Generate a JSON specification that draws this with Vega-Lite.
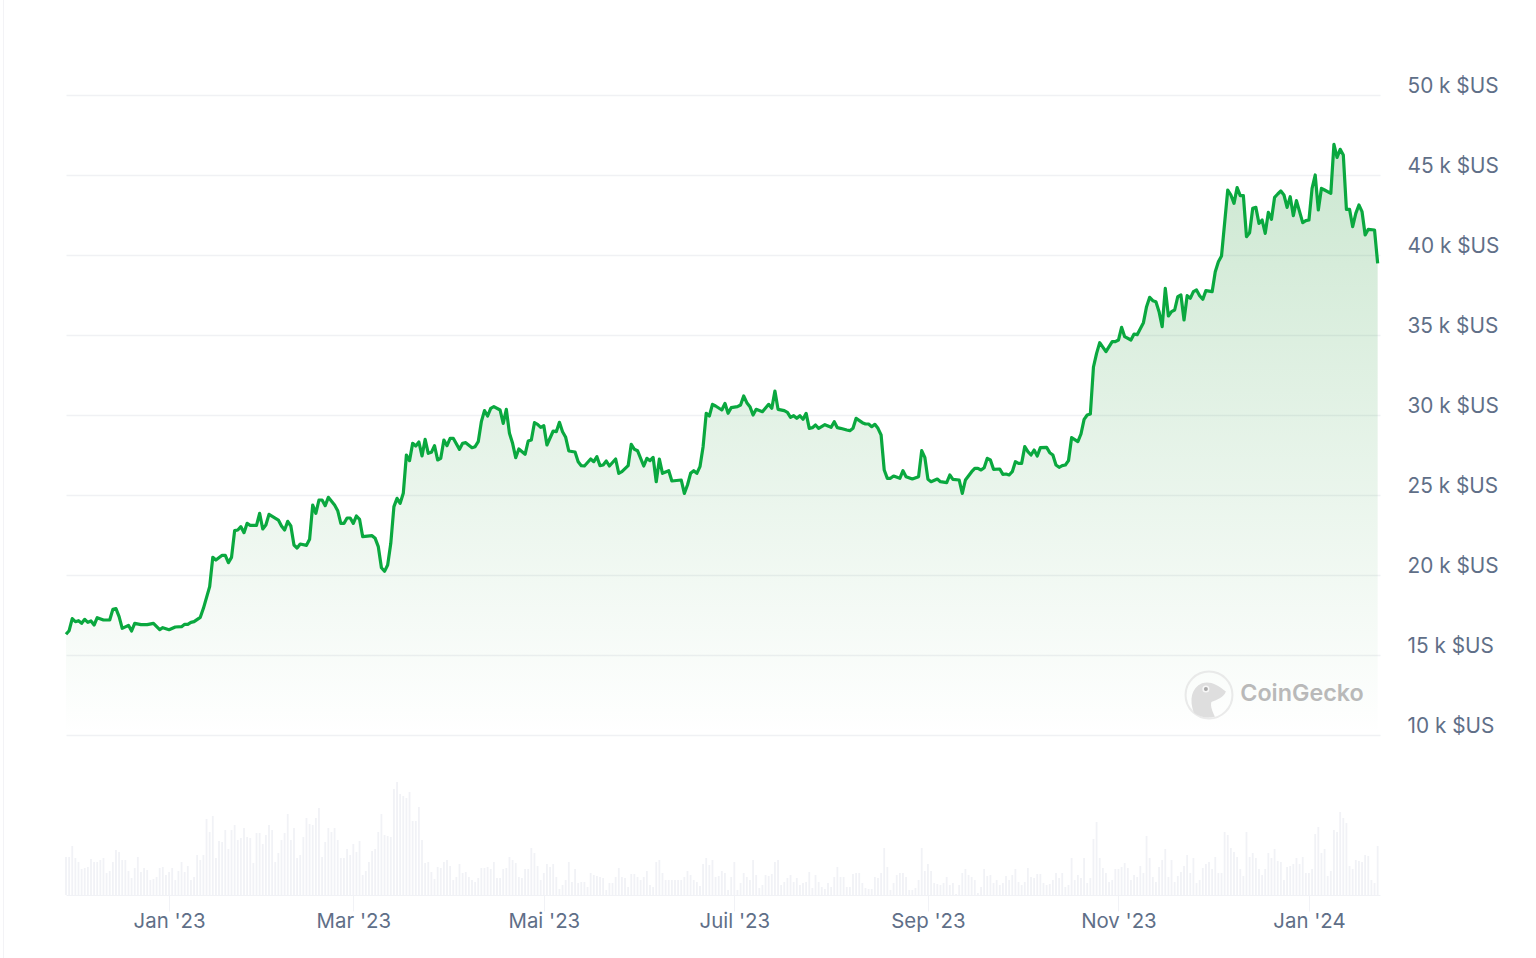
{"$schema":"https://vega.github.io/schema/vega-lite/v6.json","width":1314,"height":800,"autosize":"none","padding":{"left":66,"top":95,"right":156,"bottom":63},"background":"#ffffff","config":{"view":{"stroke":null},"font":"Inter"},
"datasets":{"daily":[
{"date":"2022-11-29","volume":38,"price":16292},{"date":"2022-11-30","volume":38,"price":16521},{"date":"2022-12-01","volume":49,"price":17271},{"date":"2022-12-02","volume":37,"price":17084},{"date":"2022-12-03","volume":33,"price":17146},{"date":"2022-12-04","volume":26,"price":16979},{"date":"2022-12-05","volume":27,"price":17229},{"date":"2022-12-06","volume":28,"price":17042},{"date":"2022-12-07","volume":36,"price":17125},{"date":"2022-12-08","volume":33,"price":16875},{"date":"2022-12-09","volume":33,"price":17334},{"date":"2022-12-10","volume":35},{"date":"2022-12-11","volume":37,"price":17188},{"date":"2022-12-12","volume":22},{"date":"2022-12-13","volume":24,"price":17188},{"date":"2022-12-14","volume":33,"price":17854},{"date":"2022-12-15","volume":45,"price":17896},{"date":"2022-12-16","volume":43,"price":17396},{"date":"2022-12-17","volume":35,"price":16667},{"date":"2022-12-18","volume":35},{"date":"2022-12-19","volume":24,"price":16854},{"date":"2022-12-20","volume":17,"price":16500},{"date":"2022-12-21","volume":27,"price":16979},{"date":"2022-12-22","volume":38},{"date":"2022-12-23","volume":23,"price":16896},{"date":"2022-12-24","volume":27},{"date":"2022-12-25","volume":25,"price":16896},{"date":"2022-12-26","volume":15},{"date":"2022-12-27","volume":16,"price":16979},{"date":"2022-12-28","volume":18},{"date":"2022-12-29","volume":27,"price":16583},{"date":"2022-12-30","volume":28,"price":16708},{"date":"2022-12-31","volume":20},
{"date":"2023-01-01","volume":23,"price":16583},{"date":"2023-01-02","volume":27},{"date":"2023-01-03","volume":15,"price":16750},{"date":"2023-01-04","volume":24},{"date":"2023-01-05","volume":33,"price":16771},{"date":"2023-01-06","volume":23,"price":16917},{"date":"2023-01-07","volume":29,"price":16917},{"date":"2023-01-08","volume":15,"price":17042},{"date":"2023-01-09","volume":18,"price":17083},{"date":"2023-01-10","volume":40},{"date":"2023-01-11","volume":35,"price":17354},{"date":"2023-01-12","volume":40,"price":17917},{"date":"2023-01-13","volume":76},{"date":"2023-01-14","volume":63,"price":19271},{"date":"2023-01-15","volume":79,"price":21104},{"date":"2023-01-16","volume":37,"price":20937},{"date":"2023-01-17","volume":54},{"date":"2023-01-18","volume":53,"price":21229},{"date":"2023-01-19","volume":65,"price":21229},{"date":"2023-01-20","volume":46,"price":20771},{"date":"2023-01-21","volume":65,"price":21104},{"date":"2023-01-22","volume":70,"price":22771},{"date":"2023-01-23","volume":55,"price":22812},{"date":"2023-01-24","volume":57,"price":23021},{"date":"2023-01-25","volume":67,"price":22646},{"date":"2023-01-26","volume":58,"price":23229},{"date":"2023-01-27","volume":57,"price":23104},{"date":"2023-01-28","volume":32},{"date":"2023-01-29","volume":62,"price":23104},{"date":"2023-01-30","volume":62,"price":23854},{"date":"2023-01-31","volume":51,"price":22875},
{"date":"2023-02-01","volume":60,"price":23125},{"date":"2023-02-02","volume":70,"price":23792},{"date":"2023-02-03","volume":65},{"date":"2023-02-04","volume":33},{"date":"2023-02-05","volume":42,"price":23437},{"date":"2023-02-06","volume":55,"price":23063},{"date":"2023-02-07","volume":62,"price":22812},{"date":"2023-02-08","volume":81,"price":23354},{"date":"2023-02-09","volume":55,"price":23063},{"date":"2023-02-10","volume":67,"price":21875},{"date":"2023-02-11","volume":37,"price":21687},{"date":"2023-02-12","volume":40,"price":21937},{"date":"2023-02-13","volume":58},{"date":"2023-02-14","volume":77,"price":21854},{"date":"2023-02-15","volume":71,"price":22229},{"date":"2023-02-16","volume":70,"price":24375},{"date":"2023-02-17","volume":77,"price":23854},{"date":"2023-02-18","volume":87,"price":24687},{"date":"2023-02-19","volume":38,"price":24687},{"date":"2023-02-20","volume":53,"price":24333},{"date":"2023-02-21","volume":67,"price":24854},{"date":"2023-02-22","volume":63},{"date":"2023-02-23","volume":67,"price":24375},{"date":"2023-02-24","volume":55,"price":24021},{"date":"2023-02-25","volume":37,"price":23229},{"date":"2023-02-26","volume":37,"price":23229},{"date":"2023-02-27","volume":46,"price":23562},{"date":"2023-02-28","volume":40,"price":23562},
{"date":"2023-03-01","volume":51,"price":23229},{"date":"2023-03-02","volume":43,"price":23688},{"date":"2023-03-03","volume":54,"price":23479},{"date":"2023-03-04","volume":20,"price":22396},{"date":"2023-03-05","volume":24},{"date":"2023-03-06","volume":33},{"date":"2023-03-07","volume":44,"price":22458},{"date":"2023-03-08","volume":46,"price":22292},{"date":"2023-03-09","volume":63,"price":21771},{"date":"2023-03-10","volume":81,"price":20458},{"date":"2023-03-11","volume":60,"price":20229},{"date":"2023-03-12","volume":59,"price":20625},{"date":"2023-03-13","volume":58,"price":21979},{"date":"2023-03-14","volume":106,"price":24271},{"date":"2023-03-15","volume":113,"price":24792},{"date":"2023-03-16","volume":101,"price":24480},{"date":"2023-03-17","volume":99,"price":25105},{"date":"2023-03-18","volume":97,"price":27500},{"date":"2023-03-19","volume":103,"price":27146},{"date":"2023-03-20","volume":74,"price":28229},{"date":"2023-03-21","volume":74,"price":28062},{"date":"2023-03-22","volume":88,"price":28312},{"date":"2023-03-23","volume":55,"price":27438},{"date":"2023-03-24","volume":32,"price":28479},{"date":"2023-03-25","volume":33,"price":27604},{"date":"2023-03-26","volume":23,"price":27667},{"date":"2023-03-27","volume":16,"price":28083},{"date":"2023-03-28","volume":28,"price":27188},{"date":"2023-03-29","volume":27,"price":27292},{"date":"2023-03-30","volume":33,"price":28438},{"date":"2023-03-31","volume":35,"price":28083},
{"date":"2023-04-01","volume":29,"price":28542},{"date":"2023-04-02","volume":15,"price":28542},{"date":"2023-04-03","volume":18},{"date":"2023-04-04","volume":31,"price":27854},{"date":"2023-04-05","volume":22,"price":28229},{"date":"2023-04-06","volume":23,"price":28271},{"date":"2023-04-07","volume":18},{"date":"2023-04-08","volume":15,"price":27958},{"date":"2023-04-09","volume":13,"price":28021},{"date":"2023-04-10","volume":17,"price":28333},{"date":"2023-04-11","volume":27,"price":29583},{"date":"2023-04-12","volume":27,"price":30271},{"date":"2023-04-13","volume":28,"price":29937},{"date":"2023-04-14","volume":26,"price":30417},{"date":"2023-04-15","volume":33,"price":30521},{"date":"2023-04-16","volume":17},{"date":"2023-04-17","volume":17,"price":30312},{"date":"2023-04-18","volume":26,"price":29479},{"date":"2023-04-19","volume":27,"price":30354},{"date":"2023-04-20","volume":38,"price":28854},{"date":"2023-04-21","volume":35,"price":28229},{"date":"2023-04-22","volume":32,"price":27333},{"date":"2023-04-23","volume":18,"price":27875},{"date":"2023-04-24","volume":17},{"date":"2023-04-25","volume":26,"price":27542},{"date":"2023-04-26","volume":26,"price":28375},{"date":"2023-04-27","volume":47,"price":28437},{"date":"2023-04-28","volume":42,"price":29521},{"date":"2023-04-29","volume":29,"price":29417},{"date":"2023-04-30","volume":15,"price":29229},
{"date":"2023-05-01","volume":22,"price":29333},{"date":"2023-05-02","volume":31,"price":28125},{"date":"2023-05-03","volume":28},{"date":"2023-05-04","volume":31,"price":29000},{"date":"2023-05-05","volume":18,"price":28958},{"date":"2023-05-06","volume":6,"price":29542},{"date":"2023-05-07","volume":10,"price":28958},{"date":"2023-05-08","volume":15,"price":28604},{"date":"2023-05-09","volume":33,"price":27750},{"date":"2023-05-10","volume":13},{"date":"2023-05-11","volume":26,"price":27687},{"date":"2023-05-12","volume":12,"price":27083},{"date":"2023-05-13","volume":13,"price":26833},{"date":"2023-05-14","volume":13,"price":26812},{"date":"2023-05-15","volume":8},{"date":"2023-05-16","volume":22,"price":27250},{"date":"2023-05-17","volume":20,"price":27083},{"date":"2023-05-18","volume":19,"price":27396},{"date":"2023-05-19","volume":18,"price":26833},{"date":"2023-05-20","volume":17,"price":26875},{"date":"2023-05-21","volume":5,"price":27125},{"date":"2023-05-22","volume":12,"price":26812},{"date":"2023-05-23","volume":12},{"date":"2023-05-24","volume":18,"price":27250},{"date":"2023-05-25","volume":27,"price":26354},{"date":"2023-05-26","volume":18,"price":26458},{"date":"2023-05-27","volume":17},{"date":"2023-05-28","volume":8,"price":26833},{"date":"2023-05-29","volume":21,"price":28167},{"date":"2023-05-30","volume":21,"price":27854},{"date":"2023-05-31","volume":18,"price":27771},
{"date":"2023-06-01","volume":15},{"date":"2023-06-02","volume":18,"price":26812},{"date":"2023-06-03","volume":24,"price":27292},{"date":"2023-06-04","volume":10,"price":27146},{"date":"2023-06-05","volume":8,"price":27354},{"date":"2023-06-06","volume":33,"price":25833},{"date":"2023-06-07","volume":35,"price":27250},{"date":"2023-06-08","volume":22,"price":26354},{"date":"2023-06-09","volume":15},{"date":"2023-06-10","volume":15,"price":26521},{"date":"2023-06-11","volume":15,"price":25875},{"date":"2023-06-12","volume":15},{"date":"2023-06-13","volume":15},{"date":"2023-06-14","volume":15,"price":25937},{"date":"2023-06-15","volume":18,"price":25104},{"date":"2023-06-16","volume":24,"price":25625},{"date":"2023-06-17","volume":20,"price":26354},{"date":"2023-06-18","volume":15,"price":26521},{"date":"2023-06-19","volume":13,"price":26354},{"date":"2023-06-20","volume":9,"price":26771},{"date":"2023-06-21","volume":31,"price":28021},{"date":"2023-06-22","volume":37,"price":30104},{"date":"2023-06-23","volume":30,"price":29938},{"date":"2023-06-24","volume":35,"price":30667},{"date":"2023-06-25","volume":18,"price":30563},{"date":"2023-06-26","volume":19},{"date":"2023-06-27","volume":24,"price":30313},{"date":"2023-06-28","volume":22,"price":30729},{"date":"2023-06-29","volume":5,"price":30104},{"date":"2023-06-30","volume":18,"price":30458},
{"date":"2023-07-01","volume":33},{"date":"2023-07-02","volume":5,"price":30521},{"date":"2023-07-03","volume":12,"price":30625},{"date":"2023-07-04","volume":22,"price":31188},{"date":"2023-07-05","volume":18,"price":30771},{"date":"2023-07-06","volume":15,"price":30521},{"date":"2023-07-07","volume":35,"price":30000},{"date":"2023-07-08","volume":20,"price":30354},{"date":"2023-07-09","volume":7},{"date":"2023-07-10","volume":10,"price":30208},{"date":"2023-07-11","volume":20},{"date":"2023-07-12","volume":19,"price":30667},{"date":"2023-07-13","volume":21,"price":30417},{"date":"2023-07-14","volume":33,"price":31500},{"date":"2023-07-15","volume":35,"price":30354},{"date":"2023-07-16","volume":10},{"date":"2023-07-17","volume":13,"price":30271},{"date":"2023-07-18","volume":17,"price":30167},{"date":"2023-07-19","volume":20,"price":29854},{"date":"2023-07-20","volume":13,"price":29958},{"date":"2023-07-21","volume":17,"price":29792},{"date":"2023-07-22","volume":10,"price":29958},{"date":"2023-07-23","volume":12,"price":29729},{"date":"2023-07-24","volume":13,"price":30104},{"date":"2023-07-25","volume":23,"price":29167},{"date":"2023-07-26","volume":7,"price":29208},{"date":"2023-07-27","volume":20,"price":29375},{"date":"2023-07-28","volume":13,"price":29167},{"date":"2023-07-29","volume":8},{"date":"2023-07-30","volume":6,"price":29396},{"date":"2023-07-31","volume":12},
{"date":"2023-08-01","volume":8,"price":29229},{"date":"2023-08-02","volume":18,"price":29583},{"date":"2023-08-03","volume":28,"price":29208},{"date":"2023-08-04","volume":18,"price":29167},{"date":"2023-08-05","volume":18},{"date":"2023-08-06","volume":8,"price":29063},{"date":"2023-08-07","volume":8,"price":29021},{"date":"2023-08-08","volume":21,"price":29167},{"date":"2023-08-09","volume":22,"price":29792},{"date":"2023-08-10","volume":22},{"date":"2023-08-11","volume":12,"price":29521},{"date":"2023-08-12","volume":7,"price":29438},{"date":"2023-08-13","volume":6,"price":29438},{"date":"2023-08-14","volume":6,"price":29271},{"date":"2023-08-15","volume":18,"price":29417},{"date":"2023-08-16","volume":17,"price":29167},{"date":"2023-08-17","volume":22,"price":28750},{"date":"2023-08-18","volume":47,"price":26563},{"date":"2023-08-19","volume":28,"price":26042},{"date":"2023-08-20","volume":5,"price":26042},{"date":"2023-08-21","volume":12,"price":26187},{"date":"2023-08-22","volume":20},{"date":"2023-08-23","volume":22,"price":26042},{"date":"2023-08-24","volume":22,"price":26521},{"date":"2023-08-25","volume":18,"price":26146},{"date":"2023-08-26","volume":5},{"date":"2023-08-27","volume":5,"price":26000},{"date":"2023-08-28","volume":7},{"date":"2023-08-29","volume":15,"price":26146},{"date":"2023-08-30","volume":47,"price":27771},{"date":"2023-08-31","volume":24,"price":27354},
{"date":"2023-09-01","volume":31,"price":25979},{"date":"2023-09-02","volume":24,"price":25833},{"date":"2023-09-03","volume":12},{"date":"2023-09-04","volume":11,"price":26000},{"date":"2023-09-05","volume":10,"price":25833},{"date":"2023-09-06","volume":12},{"date":"2023-09-07","volume":18,"price":25771},{"date":"2023-09-08","volume":10,"price":26250},{"date":"2023-09-09","volume":12,"price":25979},{"date":"2023-09-10","volume":1},{"date":"2023-09-11","volume":10,"price":25937},{"date":"2023-09-12","volume":22,"price":25104},{"date":"2023-09-13","volume":26,"price":25937},{"date":"2023-09-14","volume":20},{"date":"2023-09-15","volume":18,"price":26458},{"date":"2023-09-16","volume":15,"price":26667},{"date":"2023-09-17","volume":2,"price":26667},{"date":"2023-09-18","volume":8,"price":26563},{"date":"2023-09-19","volume":26,"price":26708},{"date":"2023-09-20","volume":19,"price":27292},{"date":"2023-09-21","volume":20,"price":27188},{"date":"2023-09-22","volume":12,"price":26604},{"date":"2023-09-23","volume":15},{"date":"2023-09-24","volume":10,"price":26625},{"date":"2023-09-25","volume":12,"price":26292},{"date":"2023-09-26","volume":19,"price":26312},{"date":"2023-09-27","volume":15,"price":26250},{"date":"2023-09-28","volume":20,"price":26458},{"date":"2023-09-29","volume":26,"price":27083},{"date":"2023-09-30","volume":13,"price":26979},
{"date":"2023-10-01","volume":10,"price":26979},{"date":"2023-10-02","volume":13,"price":28021},{"date":"2023-10-03","volume":27,"price":27708},{"date":"2023-10-04","volume":18,"price":27500},{"date":"2023-10-05","volume":17,"price":27813},{"date":"2023-10-06","volume":21,"price":27438},{"date":"2023-10-07","volume":21,"price":27958},{"date":"2023-10-08","volume":12},{"date":"2023-10-09","volume":10,"price":27979},{"date":"2023-10-10","volume":11,"price":27646},{"date":"2023-10-11","volume":15,"price":27500},{"date":"2023-10-12","volume":22,"price":26875},{"date":"2023-10-13","volume":17,"price":26729},{"date":"2023-10-14","volume":22,"price":26833},{"date":"2023-10-15","volume":8,"price":26875},{"date":"2023-10-16","volume":10,"price":27146},{"date":"2023-10-17","volume":37,"price":28583},{"date":"2023-10-18","volume":15},{"date":"2023-10-19","volume":20,"price":28333},{"date":"2023-10-20","volume":17,"price":28812},{"date":"2023-10-21","volume":37,"price":29729},{"date":"2023-10-22","volume":12,"price":30000},{"date":"2023-10-23","volume":17,"price":30062},{"date":"2023-10-24","volume":56,"price":33000},{"date":"2023-10-25","volume":73,"price":33854},{"date":"2023-10-26","volume":37,"price":34521},{"date":"2023-10-27","volume":27},{"date":"2023-10-28","volume":22,"price":33958},{"date":"2023-10-29","volume":13},{"date":"2023-10-30","volume":15,"price":34583},{"date":"2023-10-31","volume":26,"price":34583},
{"date":"2023-11-01","volume":26,"price":34687},{"date":"2023-11-02","volume":28,"price":35479},{"date":"2023-11-03","volume":32,"price":34896},{"date":"2023-11-04","volume":27},{"date":"2023-11-05","volume":15,"price":34687},{"date":"2023-11-06","volume":20,"price":35062},{"date":"2023-11-07","volume":18,"price":35021},{"date":"2023-11-08","volume":29},{"date":"2023-11-09","volume":22,"price":35771},{"date":"2023-11-10","volume":59,"price":36771},{"date":"2023-11-11","volume":37,"price":37354},{"date":"2023-11-12","volume":18,"price":37146},{"date":"2023-11-13","volume":13,"price":37083},{"date":"2023-11-14","volume":28,"price":36458},{"date":"2023-11-15","volume":35,"price":35521},{"date":"2023-11-16","volume":46,"price":37917},{"date":"2023-11-17","volume":18,"price":36187},{"date":"2023-11-18","volume":35,"price":36458},{"date":"2023-11-19","volume":13,"price":36562},{"date":"2023-11-20","volume":19,"price":37396},{"date":"2023-11-21","volume":23,"price":37500},{"date":"2023-11-22","volume":29,"price":35937},{"date":"2023-11-23","volume":40,"price":37458},{"date":"2023-11-24","volume":22,"price":37292},{"date":"2023-11-25","volume":37,"price":37708},{"date":"2023-11-26","volume":12,"price":37812},{"date":"2023-11-27","volume":15,"price":37458},{"date":"2023-11-28","volume":27,"price":37229},{"date":"2023-11-29","volume":31,"price":37771},{"date":"2023-11-30","volume":33},
{"date":"2023-12-01","volume":26,"price":37708},{"date":"2023-12-02","volume":38,"price":38958},{"date":"2023-12-03","volume":22,"price":39583},{"date":"2023-12-04","volume":22,"price":39937},{"date":"2023-12-05","volume":63},{"date":"2023-12-06","volume":60,"price":44063},{"date":"2023-12-07","volume":47,"price":43750},{"date":"2023-12-08","volume":43,"price":43229},{"date":"2023-12-09","volume":38,"price":44208},{"date":"2023-12-10","volume":26,"price":43708},{"date":"2023-12-11","volume":19,"price":43708},{"date":"2023-12-12","volume":63,"price":41146},{"date":"2023-12-13","volume":38,"price":41396},{"date":"2023-12-14","volume":42,"price":42917},{"date":"2023-12-15","volume":37,"price":42979},{"date":"2023-12-16","volume":26,"price":41979},{"date":"2023-12-17","volume":20,"price":42187},{"date":"2023-12-18","volume":26,"price":41354},{"date":"2023-12-19","volume":42,"price":42667},{"date":"2023-12-20","volume":37,"price":42229},{"date":"2023-12-21","volume":46,"price":43604},{"date":"2023-12-22","volume":34,"price":43812},{"date":"2023-12-23","volume":33,"price":44000},{"date":"2023-12-24","volume":15,"price":43750},{"date":"2023-12-25","volume":28,"price":42979},{"date":"2023-12-26","volume":29,"price":43646},{"date":"2023-12-27","volume":31,"price":42458},{"date":"2023-12-28","volume":37,"price":43396},{"date":"2023-12-29","volume":31},{"date":"2023-12-30","volume":38,"price":42021},{"date":"2023-12-31","volume":22,"price":42146},
{"date":"2024-01-01","volume":22,"price":42187},{"date":"2024-01-02","volume":26,"price":44167},{"date":"2024-01-03","volume":61,"price":45000},{"date":"2024-01-04","volume":68,"price":42812},{"date":"2024-01-05","volume":42,"price":44167},{"date":"2024-01-06","volume":46,"price":44063},{"date":"2024-01-07","volume":19},{"date":"2024-01-08","volume":24,"price":43854},{"date":"2024-01-09","volume":65,"price":46917},{"date":"2024-01-10","volume":63,"price":46104},{"date":"2024-01-11","volume":83,"price":46604},{"date":"2024-01-12","volume":77,"price":46250},{"date":"2024-01-13","volume":72,"price":42854},{"date":"2024-01-14","volume":29,"price":42854},{"date":"2024-01-15","volume":26,"price":41771},{"date":"2024-01-16","volume":35,"price":42604},{"date":"2024-01-17","volume":34,"price":43125},{"date":"2024-01-18","volume":33,"price":42708},{"date":"2024-01-19","volume":40,"price":41250},{"date":"2024-01-20","volume":39,"price":41604},{"date":"2024-01-21","volume":15},{"date":"2024-01-22","volume":12,"price":41562},{"date":"2024-01-23","volume":49,"price":39479}
]},
"encoding":{"x":{"field":"date","type":"temporal","title":null,"scale":{"type":"utc","padding":0,"domain":[{"year":2022,"month":11,"date":29,"utc":true},{"year":2024,"month":1,"date":23,"hours":18,"utc":true}]},"axis":{"values":[{"year":2023,"month":1,"date":1,"utc":true},{"year":2023,"month":3,"date":1,"utc":true},{"year":2023,"month":5,"date":1,"utc":true},{"year":2023,"month":7,"date":1,"utc":true},{"year":2023,"month":9,"date":1,"utc":true},{"year":2023,"month":11,"date":1,"utc":true},{"year":2024,"month":1,"date":1,"utc":true}],"labelExpr":"['Jan','Fév','Mar','Avr','Mai','Juin','Juil','Août','Sep','Oct','Nov','Déc'][utcmonth(datum.value)] + \" '\" + utcFormat(datum.value,'%y')","grid":false,"domainColor":"#f1f2f6","domainWidth":1,"tickColor":"#f1f2f6","tickSize":16,"tickWidth":1,"labelPadding":0,"labelFont":"Inter","labelFontSize":20.4,"labelColor":"#5f6f88","labelBaseline":"top"}}},
"layer":[
{"data":{"values":[{"date":"2022-11-09"}]},"mark":{"type":"rule","color":"#f3f3f6","strokeWidth":1,"clip":false},"encoding":{"y":{"datum":55937,"scale":{"domain":[0,50000],"nice":false},"axis":null},"y2":{"datum":-3937}}},
{"data":{"name":"daily"},"mark":{"type":"area","interpolate":"linear","line":false,"color":{"gradient":"linear","x1":0,"y1":0,"x2":0,"y2":1,"stops":[{"offset":0,"color":"rgba(50,160,70,0.25)"},{"offset":1,"color":"rgba(50,160,70,0)"}]}},"transform":[{"filter":"isValid(datum.price)"}],"encoding":{"y":{"field":"price","type":"quantitative","title":null,"scale":{"domain":[0,50000],"nice":false},"axis":{"orient":"right","values":[10000,15000,20000,25000,30000,35000,40000,45000,50000],"labelExpr":"datum.value/1000 + ' k $US'","grid":true,"gridColor":"#f0f1f4","gridWidth":1.5,"domain":false,"ticks":false,"labelPadding":27,"labelOffset":-8.5,"labelFont":"Inter","labelFontSize":20.8,"labelColor":"#5f6f88"}},"y2":{"datum":10000}}},
{"data":{"name":"daily"},"mark":{"type":"bar","size":1.8,"color":"#f1f2f6"},"encoding":{"y":{"field":"volume","type":"quantitative","scale":{"domain":[0,800],"nice":false},"axis":null}}},
{"data":{"name":"daily"},"mark":{"type":"line","interpolate":"linear","color":"#0aa83f","strokeWidth":3.2,"strokeJoin":"round"},"transform":[{"filter":"isValid(datum.price)"}],"encoding":{"y":{"field":"price","type":"quantitative","scale":{"domain":[0,50000],"nice":false},"axis":null}}},
{"data":{"values":[{"date":"2023-11-30","price":12500}]},"mark":{"type":"point","shape":"circle","size":2200,"filled":false,"stroke":"#e2e2e2","strokeWidth":2},"encoding":{"y":{"field":"price","type":"quantitative","scale":{"domain":[0,50000],"nice":false},"axis":null}}},
{"data":{"values":[{"date":"2023-11-30","price":12500}]},"mark":{"type":"point","filled":true,"size":2200,"fill":"#dedede","opacity":1,"shape":"M-0.65,0.75 C-0.85,0.2 -0.75,-0.3 -0.3,-0.5 C0,-0.6 0.3,-0.5 0.72,-0.15 C0.6,0.15 0.3,0.2 0.1,0.3 C0.05,0.5 0.15,0.7 0.25,0.93 C-0.1,1 -0.4,0.95 -0.65,0.75 Z"},"encoding":{"y":{"field":"price","type":"quantitative","scale":{"domain":[0,50000],"nice":false},"axis":null}}},
{"data":{"values":[{"date":"2023-11-29","price":12875}]},"mark":{"type":"point","filled":true,"size":50,"fill":"#f7f7f7","opacity":1},"encoding":{"y":{"field":"price","type":"quantitative","scale":{"domain":[0,50000],"nice":false},"axis":null}}},
{"data":{"values":[{"date":"2023-11-29","price":12875}]},"mark":{"type":"point","filled":true,"size":16,"fill":"#a8a8a8","opacity":1},"encoding":{"y":{"field":"price","type":"quantitative","scale":{"domain":[0,50000],"nice":false},"axis":null}}},
{"data":{"values":[{"date":"2023-12-10","price":12560,"label":"CoinGecko"}]},"mark":{"type":"text","align":"left","baseline":"middle","font":"Inter","fontSize":23.3,"fontWeight":600,"color":"#b9b9b9"},"encoding":{"y":{"field":"price","type":"quantitative","scale":{"domain":[0,50000],"nice":false},"axis":null},"text":{"field":"label"}}}
],
"resolve":{"scale":{"y":"independent"}}}
